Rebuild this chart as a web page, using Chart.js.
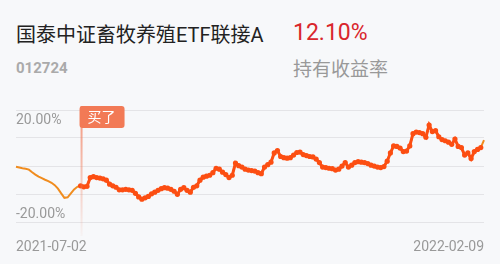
<!DOCTYPE html>
<html>
<head>
<meta charset="utf-8">
<script src="https://cdn.jsdelivr.net/npm/chart.js@4/dist/chart.umd.min.js"></script>
<style>
  html, body { margin: 0; padding: 0; }
  body {
    width: 500px; height: 264px; overflow: hidden; position: relative;
    background: #f7f8fa;
    font-family: Roboto, "Noto Sans CJK SC", sans-serif;
  }
  .txt { position: absolute; white-space: nowrap; }
  #title { left: 16px; top: 22px; font-size: 20px; line-height: 26px; color: #222; }
  #rate { left: 293px; top: 20px; font-size: 23px; line-height: 26px; color: #d9262c; }
  #code { left: 16px; top: 58px; font-size: 15px; line-height: 20px; color: #aaa; font-weight: bold; }
  #rateName { left: 293px; top: 58px; font-size: 19px; line-height: 24px; color: #999; }
  #chart { position: absolute; left: 0; top: 95px; }
</style>
</head>
<body>
<div class="txt" id="title">国泰中证畜牧养殖ETF联接A</div>
<div class="txt" id="rate">12.10%</div>
<div class="txt" id="code">012724</div>
<div class="txt" id="rateName">持有收益率</div>
<canvas id="chart" width="500" height="169"></canvas>
<script>
//收益走势数据(%)
const returns = [
  0.3, 0.0, -0.3, -0.5, -0.9, -2.0, -3.0, -3.9, -4.5, -5.2,
  -5.8, -6.5, -7.5, -9.0, -11.0, -12.9, -12.7, -11.0, -9.3, -8.2,
  -7.8, -8.2, -8.0, -4.3, -3.9, -4.3, -4.5, -4.8, -5.4, -7.1,
  -7.8, -8.4, -9.5, -9.5, -9.3, -9.5, -9.7, -11.0, -12.5, -13.5,
  -12.9, -12.3, -11.2, -10.5, -9.7, -9.0, -8.6, -8.8, -9.3, -10.1,
  -11.4, -9.3, -8.6, -9.7, -10.5, -8.4, -7.8, -5.4, -4.1, -3.7,
  -3.3, -2.2, -0.3, -0.7, -2.0, -3.0, -4.3, -3.3, 1.9, 0.8,
  0.2, -0.7, -1.1, -1.3, -1.5, -2.2, -2.6, 0.2, 1.2, 2.3,
  6.2, 7.2, 4.7, 4.2, 4.0, 4.2, 5.3, 6.4, 6.6, 5.5,
  5.1, 4.7, 4.5, 3.6, 2.1, 0.2, 0.0, -0.3, -0.5, -1.1,
  -0.7, 0.6, 2.1, 0.2, 1.0, 2.1, 2.5, 2.3, 2.1, 1.7,
  1.0, 0.6, 0.2, 0.0, 0.4, 2.7, 6.2, 9.2, 9.0, 8.3,
  6.8, 7.0, 9.2, 14.4, 15.1, 14.9, 14.4, 12.9, 18.1, 15.3,
  15.7, 13.1, 11.9, 11.4, 10.8, 9.9, 12.1, 9.0, 8.5, 5.3,
  6.2, 3.8, 6.8, 7.7, 8.5, 11.7
];
const dateLabels = ['2021-07-02', '2022-02-09'];
const yTickLabels = [20, -20];
const buyIndex = 20;
const buyText = '买了';

const labels = returns.map((v, i) => i);
//持有期间(买入到最近一个点之前)
const holding = returns.map((v, i) => (i >= buyIndex && i < returns.length - 1) ? v : null);

const yMin = -23.2, yMax = 24.5;

//买入标记
const buyMarker = {
  id: 'buyMarker',
  afterDatasetsDraw(chart) {
    const ctx = chart.ctx;
    const x = chart.scales.x.getPixelForValue(buyIndex) + 1;
    const top = 11, bottom = chart.chartArea.bottom + 14;
    const grad = ctx.createLinearGradient(0, top, 0, bottom);
    grad.addColorStop(0, 'rgba(242,120,85,0.8)');
    grad.addColorStop(1, 'rgba(242,120,85,0.04)');
    ctx.save();
    ctx.strokeStyle = grad;
    ctx.lineWidth = 2;
    ctx.beginPath();
    ctx.moveTo(x, top);
    ctx.lineTo(x, bottom);
    ctx.stroke();
    ctx.fillStyle = 'rgb(242,122,86)';
    ctx.beginPath();
    ctx.roundRect(x - 2, top, 45, 22, 3);
    ctx.fill();
    ctx.fillStyle = '#fff';
    ctx.font = '14px "Noto Sans CJK SC"';
    ctx.textBaseline = 'middle';
    ctx.fillText(buyText, x + 6, top + 11);
    ctx.restore();
  }
};

const chart = new Chart(document.getElementById('chart'), {
  type: 'line',
  data: {
    labels: labels,
    datasets: [{
      data: holding,
      borderColor: 'rgb(252,78,18)',
      backgroundColor: 'rgb(252,78,18)',
      borderWidth: 3,
      pointRadius: 2.6,
      pointBorderWidth: 0,
      tension: 0
    }, {
      data: returns,
      borderColor: 'rgb(240,140,30)',
      borderWidth: 2,
      pointRadius: 0,
      tension: 0
    }]
  },
  options: {
    responsive: false,
    animation: false,
    layout: { padding: { left: 16, right: 16, top: 15, bottom: 0 } },
    plugins: { legend: { display: false }, tooltip: { enabled: false } },
    scales: {
      x: {
        afterFit: (axis) => { axis.height = 42; },
        grid: { display: false },
        border: { display: false },
        ticks: {
          autoSkip: false,
          maxRotation: 0,
          align: 'inner',
          padding: 9,
          color: '#999',
          font: { family: 'Roboto', size: 14 },
          callback: (v, i) => i === 0 ? dateLabels[0] : (i === labels.length - 1 ? dateLabels[1] : '')
        }
      },
      y: {
        min: yMin,
        max: yMax,
        afterBuildTicks: (axis) => {
          const grid = [0, 1, 2, 3, 4].map(k => yMin + k * (yMax - yMin) / 4);
          axis.ticks = grid.concat(yTickLabels).sort((a, b) => a - b).map(v => ({ value: v }));
        },
        border: { display: false },
        grid: {
          drawTicks: false,
          color: (c) => yTickLabels.includes(c.tick.value) ? 'rgba(0,0,0,0)' : '#e4e4e7',
          lineWidth: 1
        },
        ticks: {
          autoSkip: false,
          mirror: true,
          padding: 0,
          color: '#999',
          font: { family: 'Roboto', size: 14 },
          callback: (v) => yTickLabels.includes(v) ? v.toFixed(2) + '%' : ''
        }
      }
    }
  },
  plugins: [buyMarker]
});
</script>
</body>
</html>
